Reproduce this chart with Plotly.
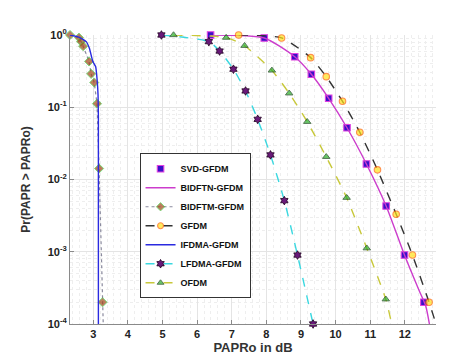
import plotly.graph_objects as go

# ---------------- data ----------------
svd_x = [6.39, 7.94, 8.82, 9.30, 9.80, 10.33, 10.89, 11.46, 11.99, 12.55]
svd_y = [1.0, 0.91, 0.50, 0.286, 0.133, 0.052, 0.0164, 0.0043, 0.0009, 0.0002]

bidftn_x = [6.39, 7.94, 8.82, 9.30, 9.80, 10.33, 10.89, 11.46, 11.99, 12.40, 12.60, 12.71]
bidftn_y = [1.0, 0.91, 0.50, 0.286, 0.133, 0.052, 0.0164, 0.0043, 0.0009, 0.0003, 0.00018, 0.0001]

bidftm_x = [2.33, 2.59, 2.65, 2.71, 2.88, 2.94, 3.03, 3.11, 3.17, 3.27, 3.29]
bidftm_y = [1.0, 0.92, 0.81, 0.70, 0.43, 0.29, 0.22, 0.112, 0.0142, 0.0002, 0.0001]

gfdm_x = [7.20, 8.44, 9.28, 9.73, 10.20, 10.70, 11.21, 11.75, 12.22, 12.70, 12.90]
gfdm_y = [1.0, 0.91, 0.486, 0.265, 0.121, 0.045, 0.0136, 0.0033, 0.0009, 0.0002, 0.0001]

ifdma_x = [2.32, 2.60, 2.80, 2.89, 2.94, 2.99, 3.07, 3.11, 3.14, 3.15, 3.15]
ifdma_y = [1.0, 0.93, 0.81, 0.655, 0.528, 0.43, 0.366, 0.25, 0.148, 0.071, 0.0001]

lfdma_x = [4.97, 6.34, 6.65, 7.05, 7.40, 7.75, 8.12, 8.52, 8.90, 9.35]
lfdma_y = [1.0, 0.81, 0.60, 0.336, 0.168, 0.068, 0.0219, 0.0051, 0.0009, 0.0001]

ofdm_x = [5.32, 6.84, 7.37, 8.16, 8.66, 9.18, 9.73, 10.32, 10.90, 11.45, 11.62]
ofdm_y = [1.0, 0.92, 0.71, 0.324, 0.156, 0.063, 0.0206, 0.0056, 0.00112, 0.00022, 0.0001]

y_tickvals = [1e-4, 1e-3, 1e-2, 1e-1, 1]
y_ticktext = ["10<sup>-4</sup>", "10<sup>-3</sup>", "10<sup>-2</sup>", "10<sup>-1</sup>", "10<sup>0</sup>"]

FONT = "Liberation Sans, Arial, Helvetica, sans-serif"

fig = go.Figure()

# SVD-GFDM : markers only
fig.add_trace(go.Scatter(
    x=svd_x, y=svd_y, name="SVD-GFDM", mode="markers", cliponaxis=False,
    marker=dict(symbol="square", size=6.5, color="#3a10c8",
                line=dict(color="#e040e0", width=1.1))))

# BIDFTN-GFDM : magenta solid line
fig.add_trace(go.Scatter(
    x=bidftn_x, y=bidftn_y, name="BIDFTN-GFDM", mode="lines",
    line=dict(color="#cc3ccc", width=1.4, shape="spline", smoothing=0.6)))

# BIDFTM-GFDM : dotted line + diamonds
bm_sizes = [7] * (len(bidftm_x) - 1) + [0]
fig.add_trace(go.Scatter(
    x=bidftm_x, y=bidftm_y, name="BIDFTM-GFDM", mode="lines+markers", cliponaxis=False,
    line=dict(color="#8a8a9e", width=1.2, dash="dot"),
    marker=dict(symbol="diamond", size=bm_sizes, color="#a0481a",
                line=dict(color="#44cc44", width=1))))

# GFDM : black dashed + circles
g_sizes = [6.5] * (len(gfdm_x) - 1) + [0]
fig.add_trace(go.Scatter(
    x=gfdm_x, y=gfdm_y, name="GFDM", mode="lines+markers", cliponaxis=False,
    line=dict(color="#333333", width=1.4, dash="dash", shape="spline", smoothing=0.6),
    marker=dict(symbol="circle", size=g_sizes, color="#ffe21a",
                line=dict(color="#ff6000", width=1.1))))

# IFDMA-GFDM : blue solid
fig.add_trace(go.Scatter(
    x=ifdma_x, y=ifdma_y, name="IFDMA-GFDM", mode="lines",
    line=dict(color="#2a2ae0", width=1.4, shape="spline", smoothing=0.4)))

# LFDMA-GFDM : cyan dashed + hexagrams
fig.add_trace(go.Scatter(
    x=lfdma_x, y=lfdma_y, name="LFDMA-GFDM", mode="lines+markers", cliponaxis=False,
    line=dict(color="#3ad8e0", width=1.4, dash="dash", shape="spline", smoothing=0.6),
    marker=dict(symbol="hexagram", size=6.5, color="#6a1a7a",
                line=dict(color="#200020", width=0.8))))

# OFDM : olive dashed + triangles
o_sizes = [6.5] * (len(ofdm_x) - 1) + [0]
fig.add_trace(go.Scatter(
    x=ofdm_x, y=ofdm_y, name="OFDM", mode="lines+markers", cliponaxis=False,
    line=dict(color="#c8c83a", width=1.4, dash="dash", shape="spline", smoothing=0.6),
    marker=dict(symbol="triangle-up", size=o_sizes, color="#28b028",
                line=dict(color="#104010", width=1))))

fig.update_layout(
    width=474, height=355,
    margin=dict(l=62, r=46, t=27, b=39),
    paper_bgcolor="white", plot_bgcolor="white",
    font=dict(family=FONT, size=11, color="#222222", weight="bold"),
    showlegend=True,
    legend=dict(x=0.19, y=0.34, xanchor="left", yanchor="middle",
                bgcolor="white", bordercolor="#333333", borderwidth=1,
                font=dict(size=9, family=FONT, weight="bold", color="#111111"),
                tracegroupgap=0, itemwidth=30),
)

fig.update_xaxes(
    range=[2.33, 12.9], tickmode="linear", tick0=3, dtick=1,
    showline=True, linecolor="#8a8a8a", linewidth=1, mirror=False,
    ticks="inside", ticklen=4, tickcolor="#8a8a8a",
    showgrid=True, gridcolor="#e4e4e4", gridwidth=1,
    minor=dict(dtick=0.2, showgrid=True, gridcolor="#eeeeee", griddash="dot"),
    zeroline=False,
    tickfont=dict(size=11, family=FONT, weight="bold", color="#222222"),
    title=dict(text="PAPRo in dB", font=dict(size=13, family=FONT, weight="bold", color="#333333"),
               standoff=0),
)

fig.update_yaxes(
    type="log", range=[-4, 0],
    tickvals=y_tickvals, ticktext=y_ticktext,
    showline=True, linecolor="#8a8a8a", linewidth=1, mirror=False,
    ticks="inside", ticklen=4, tickcolor="#8a8a8a",
    showgrid=True, gridcolor="#e4e4e4", gridwidth=1,
    minor=dict(dtick="D1", showgrid=True, gridcolor="#eeeeee", griddash="dot"),
    zeroline=False,
    tickfont=dict(size=11, family=FONT, weight="bold", color="#222222"),
    title=dict(text="Pr(PAPR > PAPRo)", font=dict(size=12, family=FONT, weight="bold", color="#333333"),
               standoff=14),
)

fig.write_html("out.html")
